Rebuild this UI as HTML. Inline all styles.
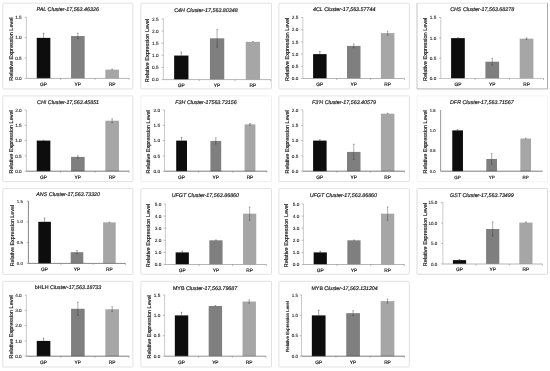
<!DOCTYPE html>
<html lang="en"><head><meta charset="utf-8"><title>Relative Expression Level</title>
<style>html,body{margin:0;padding:0;background:#fff}body{width:550px;height:371px;overflow:hidden}svg{display:block;}text{text-rendering:geometricPrecision;stroke:#151515;stroke-width:0.16px}text.k{stroke-width:0.09px}</style>
</head><body>
<svg width="550" height="371" viewBox="0 0 550 371" font-family='"Liberation Sans", Arial, sans-serif' fill="#151515">
<rect width="550" height="371" fill="#fff"/>
<g>
<rect x="2.8" y="3.2" width="130.1" height="85.7" fill="#fff" stroke="#d9d9d9" stroke-width="0.8" rx="0.8"/>
<text x="67.7" y="11.43" font-size="5.35" text-anchor="middle" xml:space="preserve"><tspan font-style="italic">PAL Cluster-17,563.46326</tspan></text>
<text transform="translate(12.68 49.15) rotate(-90)" font-size="5.5" text-anchor="middle">Relative Expression Level</text>
<line x1="26.4" y1="17.3" x2="26.4" y2="78.4" stroke="#a6a6a6" stroke-width="0.6"/>
<text x="21.7" y="80.09" font-size="4.7" text-anchor="end" class="k">0.0</text>
<line x1="24.7" y1="78.4" x2="26.4" y2="78.4" stroke="#777" stroke-width="0.5"/>
<text x="21.7" y="59.73" font-size="4.7" text-anchor="end" class="k">0.5</text>
<line x1="24.7" y1="58.03" x2="26.4" y2="58.03" stroke="#777" stroke-width="0.5"/>
<text x="21.7" y="39.36" font-size="4.7" text-anchor="end" class="k">1.0</text>
<line x1="24.7" y1="37.67" x2="26.4" y2="37.67" stroke="#777" stroke-width="0.5"/>
<text x="21.7" y="18.99" font-size="4.7" text-anchor="end" class="k">1.5</text>
<line x1="24.7" y1="17.3" x2="26.4" y2="17.3" stroke="#777" stroke-width="0.5"/>
<rect x="36.75" y="37.87" width="13.6" height="40.53" fill="#0d0d0d"/>
<path d="M43.55 33.39V37.87M42.75 33.39H44.35" stroke="#111" stroke-width="0.38" fill="none"/>
<text x="43.55" y="85.75" font-size="4.85" text-anchor="middle">GP</text>
<rect x="71.05" y="36.04" width="13.6" height="42.36" fill="#7f7f7f"/>
<path d="M77.85 33.19V38.89M77.05 33.19H78.65" stroke="#2e2e2e" stroke-width="0.38" fill="none"/>
<path d="M77.05 38.89H78.65" stroke="#2e2e2e" stroke-width="0.38"/>
<text x="77.85" y="85.75" font-size="4.85" text-anchor="middle">YP</text>
<rect x="105.35" y="69.64" width="13.6" height="8.76" fill="#a6a6a6"/>
<path d="M112.15 69.03V70.25M111.35 69.03H112.95" stroke="#2e2e2e" stroke-width="0.38" fill="none"/>
<text x="112.15" y="85.75" font-size="4.85" text-anchor="middle">RP</text>
<line x1="26.4" y1="78.4" x2="129.3" y2="78.4" stroke="#969696" stroke-width="0.7"/>
<line x1="60.7" y1="78.4" x2="60.7" y2="79.9" stroke="#777" stroke-width="0.5"/>
<line x1="95" y1="78.4" x2="95" y2="79.9" stroke="#777" stroke-width="0.5"/>
<line x1="129.1" y1="78.4" x2="129.1" y2="79.9" stroke="#777" stroke-width="0.5"/>
</g>
<g>
<rect x="140.9" y="3.2" width="130.6" height="85.7" fill="#fff" stroke="#d9d9d9" stroke-width="0.8" rx="0.8"/>
<text x="206" y="11.53" font-size="5.35" text-anchor="middle" xml:space="preserve"><tspan font-style="italic">C4H Cluster-17,563.80348</tspan></text>
<text transform="translate(149.18 50.55) rotate(-90)" font-size="5.5" text-anchor="middle">Relative Expression Level</text>
<line x1="163.4" y1="18.9" x2="163.4" y2="79.6" stroke="#a6a6a6" stroke-width="0.6"/>
<text x="158.5" y="81.29" font-size="4.7" text-anchor="end" class="k">0.0</text>
<line x1="161.7" y1="79.6" x2="163.4" y2="79.6" stroke="#777" stroke-width="0.5"/>
<text x="158.5" y="69.15" font-size="4.7" text-anchor="end" class="k">0.5</text>
<line x1="161.7" y1="67.46" x2="163.4" y2="67.46" stroke="#777" stroke-width="0.5"/>
<text x="158.5" y="57.01" font-size="4.7" text-anchor="end" class="k">1.0</text>
<line x1="161.7" y1="55.32" x2="163.4" y2="55.32" stroke="#777" stroke-width="0.5"/>
<text x="158.5" y="44.87" font-size="4.7" text-anchor="end" class="k">1.5</text>
<line x1="161.7" y1="43.18" x2="163.4" y2="43.18" stroke="#777" stroke-width="0.5"/>
<text x="158.5" y="32.73" font-size="4.7" text-anchor="end" class="k">2.0</text>
<line x1="161.7" y1="31.04" x2="163.4" y2="31.04" stroke="#777" stroke-width="0.5"/>
<text x="158.5" y="20.59" font-size="4.7" text-anchor="end" class="k">2.5</text>
<line x1="161.7" y1="18.9" x2="163.4" y2="18.9" stroke="#777" stroke-width="0.5"/>
<rect x="174.15" y="55.56" width="14.3" height="24.04" fill="#0d0d0d"/>
<path d="M181.3 52.16V55.56M180.5 52.16H182.1" stroke="#111" stroke-width="0.38" fill="none"/>
<text x="181.3" y="86.75" font-size="4.85" text-anchor="middle">GP</text>
<rect x="209.95" y="38.32" width="14.3" height="41.28" fill="#7f7f7f"/>
<path d="M217.1 29.58V47.06M216.3 29.58H217.9" stroke="#2e2e2e" stroke-width="0.38" fill="none"/>
<path d="M216.3 47.06H217.9" stroke="#2e2e2e" stroke-width="0.38"/>
<text x="217.1" y="86.75" font-size="4.85" text-anchor="middle">YP</text>
<rect x="245.75" y="41.84" width="14.3" height="37.76" fill="#a6a6a6"/>
<path d="M252.9 41.48V42.21M252.1 41.48H253.7" stroke="#2e2e2e" stroke-width="0.38" fill="none"/>
<text x="252.9" y="86.75" font-size="4.85" text-anchor="middle">RP</text>
<line x1="163.4" y1="79.6" x2="270.8" y2="79.6" stroke="#969696" stroke-width="0.7"/>
<line x1="199.2" y1="79.6" x2="199.2" y2="81.1" stroke="#777" stroke-width="0.5"/>
<line x1="235" y1="79.6" x2="235" y2="81.1" stroke="#777" stroke-width="0.5"/>
<line x1="270.6" y1="79.6" x2="270.6" y2="81.1" stroke="#777" stroke-width="0.5"/>
</g>
<g>
<rect x="278.9" y="3.2" width="130.4" height="85.7" fill="#fff" stroke="#d9d9d9" stroke-width="0.8" rx="0.8"/>
<text x="344.2" y="11.43" font-size="5.35" text-anchor="middle" xml:space="preserve"><tspan font-style="italic">4CL Cluster-17,563.57744</tspan></text>
<text transform="translate(288.68 49.3) rotate(-90)" font-size="5.5" text-anchor="middle">Relative Expression Level</text>
<line x1="302.9" y1="17.5" x2="302.9" y2="78.5" stroke="#a6a6a6" stroke-width="0.6"/>
<text x="298.4" y="80.19" font-size="4.7" text-anchor="end" class="k">0.0</text>
<line x1="301.2" y1="78.5" x2="302.9" y2="78.5" stroke="#777" stroke-width="0.5"/>
<text x="298.4" y="67.99" font-size="4.7" text-anchor="end" class="k">0.5</text>
<line x1="301.2" y1="66.3" x2="302.9" y2="66.3" stroke="#777" stroke-width="0.5"/>
<text x="298.4" y="55.79" font-size="4.7" text-anchor="end" class="k">1.0</text>
<line x1="301.2" y1="54.1" x2="302.9" y2="54.1" stroke="#777" stroke-width="0.5"/>
<text x="298.4" y="43.59" font-size="4.7" text-anchor="end" class="k">1.5</text>
<line x1="301.2" y1="41.9" x2="302.9" y2="41.9" stroke="#777" stroke-width="0.5"/>
<text x="298.4" y="31.39" font-size="4.7" text-anchor="end" class="k">2.0</text>
<line x1="301.2" y1="29.7" x2="302.9" y2="29.7" stroke="#777" stroke-width="0.5"/>
<text x="298.4" y="19.19" font-size="4.7" text-anchor="end" class="k">2.5</text>
<line x1="301.2" y1="17.5" x2="302.9" y2="17.5" stroke="#777" stroke-width="0.5"/>
<rect x="313.1" y="54.1" width="13.5" height="24.4" fill="#0d0d0d"/>
<path d="M319.85 51.66V54.1M319.05 51.66H320.65" stroke="#111" stroke-width="0.38" fill="none"/>
<text x="319.85" y="85.75" font-size="4.85" text-anchor="middle">GP</text>
<rect x="347" y="45.9" width="13.5" height="32.6" fill="#7f7f7f"/>
<path d="M353.75 43.95V47.85M352.95 43.95H354.55" stroke="#2e2e2e" stroke-width="0.38" fill="none"/>
<path d="M352.95 47.85H354.55" stroke="#2e2e2e" stroke-width="0.38"/>
<text x="353.75" y="85.75" font-size="4.85" text-anchor="middle">YP</text>
<rect x="380.9" y="33.12" width="13.5" height="45.38" fill="#a6a6a6"/>
<path d="M387.65 31.16V35.07M386.85 31.16H388.45" stroke="#2e2e2e" stroke-width="0.38" fill="none"/>
<path d="M386.85 35.07H388.45" stroke="#2e2e2e" stroke-width="0.38"/>
<text x="387.65" y="85.75" font-size="4.85" text-anchor="middle">RP</text>
<line x1="302.9" y1="78.5" x2="404.6" y2="78.5" stroke="#969696" stroke-width="0.7"/>
<line x1="336.8" y1="78.5" x2="336.8" y2="80" stroke="#777" stroke-width="0.5"/>
<line x1="370.7" y1="78.5" x2="370.7" y2="80" stroke="#777" stroke-width="0.5"/>
<line x1="404.4" y1="78.5" x2="404.4" y2="80" stroke="#777" stroke-width="0.5"/>
</g>
<g>
<path d="M417 3.2V88.9" stroke="#bdbdbd" stroke-width="0.9" fill="none"/>
<path d="M417 3.2H547.5" stroke="#dedede" stroke-width="0.8" fill="none"/>
<path d="M547.5 3.2V88.9" stroke="#a8a8a8" stroke-width="1" fill="none"/>
<path d="M417 88.9H548" stroke="#b0b0b0" stroke-width="1" fill="none"/>
<text x="482.2" y="11.43" font-size="5.35" text-anchor="middle" xml:space="preserve"><tspan font-style="italic">CHS Cluster-17,563.68278</tspan></text>
<text transform="translate(426.98 49.3) rotate(-90)" font-size="5.5" text-anchor="middle">Relative Expression Level</text>
<line x1="440.8" y1="17.5" x2="440.8" y2="78.5" stroke="#a6a6a6" stroke-width="0.6"/>
<text x="436.3" y="80.19" font-size="4.7" text-anchor="end" class="k">0.0</text>
<line x1="439.1" y1="78.5" x2="440.8" y2="78.5" stroke="#777" stroke-width="0.5"/>
<text x="436.3" y="59.86" font-size="4.7" text-anchor="end" class="k">0.5</text>
<line x1="439.1" y1="58.17" x2="440.8" y2="58.17" stroke="#777" stroke-width="0.5"/>
<text x="436.3" y="39.53" font-size="4.7" text-anchor="end" class="k">1.0</text>
<line x1="439.1" y1="37.83" x2="440.8" y2="37.83" stroke="#777" stroke-width="0.5"/>
<text x="436.3" y="19.19" font-size="4.7" text-anchor="end" class="k">1.5</text>
<line x1="439.1" y1="17.5" x2="440.8" y2="17.5" stroke="#777" stroke-width="0.5"/>
<rect x="451.1" y="38.12" width="13.7" height="40.38" fill="#0d0d0d"/>
<path d="M457.95 37.71V38.12M457.15 37.71H458.75" stroke="#111" stroke-width="0.38" fill="none"/>
<text x="457.95" y="85.75" font-size="4.85" text-anchor="middle">GP</text>
<rect x="485.4" y="61.7" width="13.7" height="16.8" fill="#7f7f7f"/>
<path d="M492.25 58.45V64.96M491.45 58.45H493.05" stroke="#2e2e2e" stroke-width="0.38" fill="none"/>
<path d="M491.45 64.96H493.05" stroke="#2e2e2e" stroke-width="0.38"/>
<text x="492.25" y="85.75" font-size="4.85" text-anchor="middle">YP</text>
<rect x="519.7" y="38.65" width="13.7" height="39.85" fill="#a6a6a6"/>
<path d="M526.55 37.83V39.46M525.75 37.83H527.35" stroke="#2e2e2e" stroke-width="0.38" fill="none"/>
<path d="M525.75 39.46H527.35" stroke="#2e2e2e" stroke-width="0.38"/>
<text x="526.55" y="85.75" font-size="4.85" text-anchor="middle">RP</text>
<line x1="440.8" y1="78.5" x2="543.7" y2="78.5" stroke="#adadad" stroke-width="0.7"/>
<line x1="475.1" y1="78.5" x2="475.1" y2="80" stroke="#777" stroke-width="0.5"/>
<line x1="509.4" y1="78.5" x2="509.4" y2="80" stroke="#777" stroke-width="0.5"/>
<line x1="543.5" y1="78.5" x2="543.5" y2="80" stroke="#777" stroke-width="0.5"/>
</g>
<g>
<rect x="2.8" y="95.9" width="130.1" height="85.7" fill="#fff" stroke="#d9d9d9" stroke-width="0.8" rx="0.8"/>
<text x="68.1" y="104.43" font-size="5.35" text-anchor="middle" xml:space="preserve"><tspan font-style="italic">CHI Cluster-17,563.45851</tspan></text>
<text transform="translate(12.68 141.9) rotate(-90)" font-size="5.5" text-anchor="middle">Relative Expression Level</text>
<line x1="26.4" y1="110" x2="26.4" y2="171.2" stroke="#a6a6a6" stroke-width="0.6"/>
<text x="21.7" y="172.89" font-size="4.7" text-anchor="end" class="k">0.0</text>
<line x1="24.7" y1="171.2" x2="26.4" y2="171.2" stroke="#777" stroke-width="0.5"/>
<text x="21.7" y="157.59" font-size="4.7" text-anchor="end" class="k">0.5</text>
<line x1="24.7" y1="155.9" x2="26.4" y2="155.9" stroke="#777" stroke-width="0.5"/>
<text x="21.7" y="142.29" font-size="4.7" text-anchor="end" class="k">1.0</text>
<line x1="24.7" y1="140.6" x2="26.4" y2="140.6" stroke="#777" stroke-width="0.5"/>
<text x="21.7" y="126.99" font-size="4.7" text-anchor="end" class="k">1.5</text>
<line x1="24.7" y1="125.3" x2="26.4" y2="125.3" stroke="#777" stroke-width="0.5"/>
<text x="21.7" y="111.69" font-size="4.7" text-anchor="end" class="k">2.0</text>
<line x1="24.7" y1="110" x2="26.4" y2="110" stroke="#777" stroke-width="0.5"/>
<rect x="36.75" y="140.6" width="13.6" height="30.6" fill="#0d0d0d"/>
<path d="M43.55 140.29V140.6M42.75 140.29H44.35" stroke="#111" stroke-width="0.38" fill="none"/>
<text x="43.55" y="178.75" font-size="4.85" text-anchor="middle">GP</text>
<rect x="71.05" y="156.88" width="13.6" height="14.32" fill="#7f7f7f"/>
<path d="M77.85 155.66V158.1M77.05 155.66H78.65" stroke="#2e2e2e" stroke-width="0.38" fill="none"/>
<path d="M77.05 158.1H78.65" stroke="#2e2e2e" stroke-width="0.38"/>
<text x="77.85" y="178.75" font-size="4.85" text-anchor="middle">YP</text>
<rect x="105.35" y="120.71" width="13.6" height="50.49" fill="#a6a6a6"/>
<path d="M112.15 118.87V122.55M111.35 118.87H112.95" stroke="#2e2e2e" stroke-width="0.38" fill="none"/>
<path d="M111.35 122.55H112.95" stroke="#2e2e2e" stroke-width="0.38"/>
<text x="112.15" y="178.75" font-size="4.85" text-anchor="middle">RP</text>
<line x1="26.4" y1="171.2" x2="129.3" y2="171.2" stroke="#444" stroke-width="0.7"/>
<line x1="60.7" y1="171.2" x2="60.7" y2="172.7" stroke="#777" stroke-width="0.5"/>
<line x1="95" y1="171.2" x2="95" y2="172.7" stroke="#777" stroke-width="0.5"/>
<line x1="129.1" y1="171.2" x2="129.1" y2="172.7" stroke="#777" stroke-width="0.5"/>
</g>
<g>
<rect x="140.9" y="95.9" width="130.6" height="85.7" fill="#fff" stroke="#ececec" stroke-width="0.8" rx="0.8"/>
<text x="206" y="104.43" font-size="5.35" text-anchor="middle" xml:space="preserve"><tspan font-style="italic">F3H Cluster-17563.73156</tspan></text>
<text transform="translate(150.38 141.9) rotate(-90)" font-size="5.5" text-anchor="middle">Relative Expression Level</text>
<line x1="164.5" y1="110" x2="164.5" y2="171.2" stroke="#a6a6a6" stroke-width="0.6"/>
<text x="160" y="172.89" font-size="4.7" text-anchor="end" class="k">0.0</text>
<line x1="162.8" y1="171.2" x2="164.5" y2="171.2" stroke="#777" stroke-width="0.5"/>
<text x="160" y="157.59" font-size="4.7" text-anchor="end" class="k">0.5</text>
<line x1="162.8" y1="155.9" x2="164.5" y2="155.9" stroke="#777" stroke-width="0.5"/>
<text x="160" y="142.29" font-size="4.7" text-anchor="end" class="k">1.0</text>
<line x1="162.8" y1="140.6" x2="164.5" y2="140.6" stroke="#777" stroke-width="0.5"/>
<text x="160" y="126.99" font-size="4.7" text-anchor="end" class="k">1.5</text>
<line x1="162.8" y1="125.3" x2="164.5" y2="125.3" stroke="#777" stroke-width="0.5"/>
<text x="160" y="111.69" font-size="4.7" text-anchor="end" class="k">2.0</text>
<line x1="162.8" y1="110" x2="164.5" y2="110" stroke="#777" stroke-width="0.5"/>
<rect x="176.2" y="140.6" width="10.8" height="30.6" fill="#0d0d0d"/>
<path d="M181.6 137.54V140.6M180.8 137.54H182.4" stroke="#111" stroke-width="0.38" fill="none"/>
<text x="181.6" y="178.75" font-size="4.85" text-anchor="middle">GP</text>
<rect x="210.4" y="140.91" width="10.8" height="30.29" fill="#7f7f7f"/>
<path d="M215.8 137.85V143.97M215 137.85H216.6" stroke="#2e2e2e" stroke-width="0.38" fill="none"/>
<path d="M215 143.97H216.6" stroke="#2e2e2e" stroke-width="0.38"/>
<text x="215.8" y="178.75" font-size="4.85" text-anchor="middle">YP</text>
<rect x="244.6" y="124.38" width="10.8" height="46.82" fill="#a6a6a6"/>
<path d="M250 123.46V125.3M249.2 123.46H250.8" stroke="#2e2e2e" stroke-width="0.38" fill="none"/>
<path d="M249.2 125.3H250.8" stroke="#2e2e2e" stroke-width="0.38"/>
<text x="250" y="178.75" font-size="4.85" text-anchor="middle">RP</text>
<line x1="164.5" y1="171.2" x2="267.1" y2="171.2" stroke="#444" stroke-width="0.7"/>
<line x1="198.7" y1="171.2" x2="198.7" y2="172.7" stroke="#777" stroke-width="0.5"/>
<line x1="232.9" y1="171.2" x2="232.9" y2="172.7" stroke="#777" stroke-width="0.5"/>
<line x1="266.9" y1="171.2" x2="266.9" y2="172.7" stroke="#777" stroke-width="0.5"/>
</g>
<g>
<rect x="278.9" y="95.9" width="130.4" height="85.7" fill="#fff" stroke="#d9d9d9" stroke-width="0.8" rx="0.8"/>
<text x="344" y="104.43" font-size="5.35" text-anchor="middle" xml:space="preserve"><tspan font-style="italic">F3'H Cluster-17,563.40579</tspan></text>
<text transform="translate(289.28 141.9) rotate(-90)" font-size="5.5" text-anchor="middle">Relative Expression Level</text>
<line x1="302.9" y1="110" x2="302.9" y2="171.2" stroke="#a6a6a6" stroke-width="0.6"/>
<text x="298.4" y="172.89" font-size="4.7" text-anchor="end" class="k">0.0</text>
<line x1="301.2" y1="171.2" x2="302.9" y2="171.2" stroke="#777" stroke-width="0.5"/>
<text x="298.4" y="157.59" font-size="4.7" text-anchor="end" class="k">0.5</text>
<line x1="301.2" y1="155.9" x2="302.9" y2="155.9" stroke="#777" stroke-width="0.5"/>
<text x="298.4" y="142.29" font-size="4.7" text-anchor="end" class="k">1.0</text>
<line x1="301.2" y1="140.6" x2="302.9" y2="140.6" stroke="#777" stroke-width="0.5"/>
<text x="298.4" y="126.99" font-size="4.7" text-anchor="end" class="k">1.5</text>
<line x1="301.2" y1="125.3" x2="302.9" y2="125.3" stroke="#777" stroke-width="0.5"/>
<text x="298.4" y="111.69" font-size="4.7" text-anchor="end" class="k">2.0</text>
<line x1="301.2" y1="110" x2="302.9" y2="110" stroke="#777" stroke-width="0.5"/>
<rect x="313.1" y="140.6" width="13.5" height="30.6" fill="#0d0d0d"/>
<path d="M319.85 139.68V140.6M319.05 139.68H320.65" stroke="#111" stroke-width="0.38" fill="none"/>
<text x="319.85" y="178.75" font-size="4.85" text-anchor="middle">GP</text>
<rect x="347" y="151.92" width="13.5" height="19.28" fill="#7f7f7f"/>
<path d="M353.75 144.27V159.57M352.95 144.27H354.55" stroke="#2e2e2e" stroke-width="0.38" fill="none"/>
<path d="M352.95 159.57H354.55" stroke="#2e2e2e" stroke-width="0.38"/>
<text x="353.75" y="178.75" font-size="4.85" text-anchor="middle">YP</text>
<rect x="380.9" y="113.67" width="13.5" height="57.53" fill="#a6a6a6"/>
<path d="M387.65 113.37V113.98M386.85 113.37H388.45" stroke="#2e2e2e" stroke-width="0.38" fill="none"/>
<text x="387.65" y="178.75" font-size="4.85" text-anchor="middle">RP</text>
<line x1="302.9" y1="171.2" x2="404.6" y2="171.2" stroke="#444" stroke-width="0.7"/>
<line x1="336.8" y1="171.2" x2="336.8" y2="172.7" stroke="#777" stroke-width="0.5"/>
<line x1="370.7" y1="171.2" x2="370.7" y2="172.7" stroke="#777" stroke-width="0.5"/>
<line x1="404.4" y1="171.2" x2="404.4" y2="172.7" stroke="#777" stroke-width="0.5"/>
</g>
<g>
<rect x="417" y="95.9" width="130.5" height="85.7" fill="#fff" stroke="#f0f0f0" stroke-width="0.8" rx="0.8"/>
<text x="481.9" y="104.13" font-size="5.35" text-anchor="middle" xml:space="preserve"><tspan font-style="italic">DFR Cluster-17,563.71567</tspan></text>
<text transform="translate(426.98 141.9) rotate(-90)" font-size="5.5" text-anchor="middle">Relative Expression Level</text>
<line x1="440.6" y1="110" x2="440.6" y2="171.2" stroke="#555" stroke-width="0.6"/>
<text x="435.7" y="172.71" font-size="4.2" text-anchor="end" class="k">0.0</text>
<text x="435.7" y="152.31" font-size="4.2" text-anchor="end" class="k">0.5</text>
<text x="435.7" y="131.91" font-size="4.2" text-anchor="end" class="k">1.0</text>
<text x="435.7" y="111.51" font-size="4.2" text-anchor="end" class="k">1.5</text>
<rect x="452.26" y="130.4" width="10.7" height="40.8" fill="#0d0d0d"/>
<path d="M457.62 129.58V130.4M456.81 129.58H458.42" stroke="#111" stroke-width="0.38" fill="none"/>
<text x="457.62" y="178.75" font-size="4.5" text-anchor="middle">GP</text>
<rect x="486.3" y="158.96" width="10.7" height="12.24" fill="#7f7f7f"/>
<path d="M491.65 153.66V164.26M490.85 153.66H492.45" stroke="#2e2e2e" stroke-width="0.38" fill="none"/>
<path d="M490.85 164.26H492.45" stroke="#2e2e2e" stroke-width="0.38"/>
<text x="491.65" y="178.75" font-size="4.5" text-anchor="middle">YP</text>
<rect x="520.33" y="138.56" width="10.7" height="32.64" fill="#a6a6a6"/>
<path d="M525.68 138.15V138.97M524.88 138.15H526.48" stroke="#2e2e2e" stroke-width="0.38" fill="none"/>
<text x="525.68" y="178.75" font-size="4.5" text-anchor="middle">RP</text>
<line x1="440.6" y1="171.2" x2="542.69" y2="171.2" stroke="#444" stroke-width="0.7"/>
</g>
<g>
<rect x="2.8" y="188.6" width="130.1" height="85.7" fill="#fff" stroke="#d9d9d9" stroke-width="0.8" rx="0.8"/>
<text x="68.2" y="196.43" font-size="5.35" text-anchor="middle" xml:space="preserve"><tspan font-style="italic">ANS Cluster-17,563.73320</tspan></text>
<text transform="translate(13.83 235.6) rotate(-90)" font-size="5.35" text-anchor="middle">Relative Expression Level</text>
<line x1="28.4" y1="201" x2="28.4" y2="263.4" stroke="#333" stroke-width="0.6"/>
<text x="22.9" y="264.98" font-size="4.4" text-anchor="end" class="k">0.0</text>
<line x1="26.7" y1="263.4" x2="28.4" y2="263.4" stroke="#777" stroke-width="0.5"/>
<text x="22.9" y="244.18" font-size="4.4" text-anchor="end" class="k">0.5</text>
<line x1="26.7" y1="242.6" x2="28.4" y2="242.6" stroke="#777" stroke-width="0.5"/>
<text x="22.9" y="223.38" font-size="4.4" text-anchor="end" class="k">1.0</text>
<line x1="26.7" y1="221.8" x2="28.4" y2="221.8" stroke="#777" stroke-width="0.5"/>
<text x="22.9" y="202.58" font-size="4.4" text-anchor="end" class="k">1.5</text>
<line x1="26.7" y1="201" x2="28.4" y2="201" stroke="#777" stroke-width="0.5"/>
<rect x="38.3" y="221.8" width="12.6" height="41.6" fill="#0d0d0d"/>
<path d="M44.6 218.06V221.8M43.8 218.06H45.4" stroke="#111" stroke-width="0.38" fill="none"/>
<text x="44.6" y="270.95" font-size="4.85" text-anchor="middle">GP</text>
<rect x="70.7" y="252.17" width="12.6" height="11.23" fill="#7f7f7f"/>
<path d="M77 250.5V253.83M76.2 250.5H77.8" stroke="#2e2e2e" stroke-width="0.38" fill="none"/>
<path d="M76.2 253.83H77.8" stroke="#2e2e2e" stroke-width="0.38"/>
<text x="77" y="270.95" font-size="4.85" text-anchor="middle">YP</text>
<rect x="103.1" y="222.42" width="12.6" height="40.98" fill="#a6a6a6"/>
<path d="M109.4 222.01V222.84M108.6 222.01H110.2" stroke="#2e2e2e" stroke-width="0.38" fill="none"/>
<text x="109.4" y="270.95" font-size="4.85" text-anchor="middle">RP</text>
<line x1="28.4" y1="263.4" x2="125.6" y2="263.4" stroke="#555" stroke-width="0.7"/>
<line x1="60.8" y1="263.4" x2="60.8" y2="264.9" stroke="#777" stroke-width="0.5"/>
<line x1="93.2" y1="263.4" x2="93.2" y2="264.9" stroke="#777" stroke-width="0.5"/>
<line x1="125.4" y1="263.4" x2="125.4" y2="264.9" stroke="#777" stroke-width="0.5"/>
</g>
<g>
<rect x="140.9" y="188.6" width="130.6" height="85.7" fill="#fff" stroke="#d9d9d9" stroke-width="0.8" rx="0.8"/>
<text x="205.4" y="197.23" font-size="5.35" text-anchor="middle" xml:space="preserve"><tspan font-style="italic">UFGT Cluster-17,563.86860</tspan></text>
<text transform="translate(150.08 235.55) rotate(-90)" font-size="5.5" text-anchor="middle">Relative Expression Level</text>
<line x1="165.4" y1="204" x2="165.4" y2="264.5" stroke="#a6a6a6" stroke-width="0.6"/>
<text x="161.3" y="266.19" font-size="4.7" text-anchor="end" class="k">0.0</text>
<line x1="163.7" y1="264.5" x2="165.4" y2="264.5" stroke="#777" stroke-width="0.5"/>
<text x="161.3" y="254.09" font-size="4.7" text-anchor="end" class="k">1.0</text>
<line x1="163.7" y1="252.4" x2="165.4" y2="252.4" stroke="#777" stroke-width="0.5"/>
<text x="161.3" y="241.99" font-size="4.7" text-anchor="end" class="k">2.0</text>
<line x1="163.7" y1="240.3" x2="165.4" y2="240.3" stroke="#777" stroke-width="0.5"/>
<text x="161.3" y="229.89" font-size="4.7" text-anchor="end" class="k">3.0</text>
<line x1="163.7" y1="228.2" x2="165.4" y2="228.2" stroke="#777" stroke-width="0.5"/>
<text x="161.3" y="217.79" font-size="4.7" text-anchor="end" class="k">4.0</text>
<line x1="163.7" y1="216.1" x2="165.4" y2="216.1" stroke="#777" stroke-width="0.5"/>
<text x="161.3" y="205.69" font-size="4.7" text-anchor="end" class="k">5.0</text>
<line x1="163.7" y1="204" x2="165.4" y2="204" stroke="#777" stroke-width="0.5"/>
<rect x="175.65" y="252.4" width="13.2" height="12.1" fill="#0d0d0d"/>
<path d="M182.25 251.19V252.4M181.45 251.19H183.05" stroke="#111" stroke-width="0.38" fill="none"/>
<text x="182.25" y="271.75" font-size="4.85" text-anchor="middle">GP</text>
<rect x="209.35" y="240.3" width="13.2" height="24.2" fill="#7f7f7f"/>
<path d="M215.95 239.94V240.66M215.15 239.94H216.75" stroke="#2e2e2e" stroke-width="0.38" fill="none"/>
<text x="215.95" y="271.75" font-size="4.85" text-anchor="middle">YP</text>
<rect x="243.05" y="213.68" width="13.2" height="50.82" fill="#a6a6a6"/>
<path d="M249.65 207.03V220.34M248.85 207.03H250.45" stroke="#2e2e2e" stroke-width="0.38" fill="none"/>
<path d="M248.85 220.34H250.45" stroke="#2e2e2e" stroke-width="0.38"/>
<text x="249.65" y="271.75" font-size="4.85" text-anchor="middle">RP</text>
<line x1="165.4" y1="264.5" x2="266.5" y2="264.5" stroke="#969696" stroke-width="0.7"/>
<line x1="199.1" y1="264.5" x2="199.1" y2="266" stroke="#777" stroke-width="0.5"/>
<line x1="232.8" y1="264.5" x2="232.8" y2="266" stroke="#777" stroke-width="0.5"/>
<line x1="266.3" y1="264.5" x2="266.3" y2="266" stroke="#777" stroke-width="0.5"/>
</g>
<g>
<rect x="278.9" y="188.6" width="130.4" height="85.7" fill="#fff" stroke="#d9d9d9" stroke-width="0.8" rx="0.8"/>
<text x="343.4" y="197.23" font-size="5.35" text-anchor="middle" xml:space="preserve"><tspan font-style="italic">UFGT Cluster-17,563.86860</tspan></text>
<text transform="translate(288.08 235.55) rotate(-90)" font-size="5.5" text-anchor="middle">Relative Expression Level</text>
<line x1="303.4" y1="204" x2="303.4" y2="264.5" stroke="#a6a6a6" stroke-width="0.6"/>
<text x="299.3" y="266.19" font-size="4.7" text-anchor="end" class="k">0.0</text>
<line x1="301.7" y1="264.5" x2="303.4" y2="264.5" stroke="#777" stroke-width="0.5"/>
<text x="299.3" y="254.09" font-size="4.7" text-anchor="end" class="k">1.0</text>
<line x1="301.7" y1="252.4" x2="303.4" y2="252.4" stroke="#777" stroke-width="0.5"/>
<text x="299.3" y="241.99" font-size="4.7" text-anchor="end" class="k">2.0</text>
<line x1="301.7" y1="240.3" x2="303.4" y2="240.3" stroke="#777" stroke-width="0.5"/>
<text x="299.3" y="229.89" font-size="4.7" text-anchor="end" class="k">3.0</text>
<line x1="301.7" y1="228.2" x2="303.4" y2="228.2" stroke="#777" stroke-width="0.5"/>
<text x="299.3" y="217.79" font-size="4.7" text-anchor="end" class="k">4.0</text>
<line x1="301.7" y1="216.1" x2="303.4" y2="216.1" stroke="#777" stroke-width="0.5"/>
<text x="299.3" y="205.69" font-size="4.7" text-anchor="end" class="k">5.0</text>
<line x1="301.7" y1="204" x2="303.4" y2="204" stroke="#777" stroke-width="0.5"/>
<rect x="313.65" y="252.4" width="13.2" height="12.1" fill="#0d0d0d"/>
<path d="M320.25 251.19V252.4M319.45 251.19H321.05" stroke="#111" stroke-width="0.38" fill="none"/>
<text x="320.25" y="271.75" font-size="4.85" text-anchor="middle">GP</text>
<rect x="347.35" y="240.3" width="13.2" height="24.2" fill="#7f7f7f"/>
<path d="M353.95 239.94V240.66M353.15 239.94H354.75" stroke="#2e2e2e" stroke-width="0.38" fill="none"/>
<text x="353.95" y="271.75" font-size="4.85" text-anchor="middle">YP</text>
<rect x="381.05" y="213.68" width="13.2" height="50.82" fill="#a6a6a6"/>
<path d="M387.65 207.03V220.34M386.85 207.03H388.45" stroke="#2e2e2e" stroke-width="0.38" fill="none"/>
<path d="M386.85 220.34H388.45" stroke="#2e2e2e" stroke-width="0.38"/>
<text x="387.65" y="271.75" font-size="4.85" text-anchor="middle">RP</text>
<line x1="303.4" y1="264.5" x2="404.5" y2="264.5" stroke="#969696" stroke-width="0.7"/>
<line x1="337.1" y1="264.5" x2="337.1" y2="266" stroke="#777" stroke-width="0.5"/>
<line x1="370.8" y1="264.5" x2="370.8" y2="266" stroke="#777" stroke-width="0.5"/>
<line x1="404.3" y1="264.5" x2="404.3" y2="266" stroke="#777" stroke-width="0.5"/>
</g>
<g>
<rect x="417" y="188.6" width="130.5" height="85.7" fill="#fff" stroke="#d0d0d0" stroke-width="0.8" rx="0.8"/>
<text x="481.9" y="197.23" font-size="5.35" text-anchor="middle" xml:space="preserve"><tspan font-style="italic">GST Cluster-17,563.73499</tspan></text>
<text transform="translate(426.58 234.6) rotate(-90)" font-size="5.5" text-anchor="middle">Relative Expression Level</text>
<line x1="442.9" y1="202.6" x2="442.9" y2="264" stroke="#a6a6a6" stroke-width="0.6"/>
<text x="437.3" y="265.62" font-size="4.5" text-anchor="end" class="k">0.0</text>
<line x1="441.2" y1="264" x2="442.9" y2="264" stroke="#777" stroke-width="0.5"/>
<text x="437.3" y="245.15" font-size="4.5" text-anchor="end" class="k">5.0</text>
<line x1="441.2" y1="243.53" x2="442.9" y2="243.53" stroke="#777" stroke-width="0.5"/>
<text x="437.3" y="224.69" font-size="4.5" text-anchor="end" class="k">10.0</text>
<line x1="441.2" y1="223.07" x2="442.9" y2="223.07" stroke="#777" stroke-width="0.5"/>
<text x="437.3" y="204.22" font-size="4.5" text-anchor="end" class="k">15.0</text>
<line x1="441.2" y1="202.6" x2="442.9" y2="202.6" stroke="#777" stroke-width="0.5"/>
<rect x="452.9" y="260.11" width="13.2" height="3.89" fill="#0d0d0d"/>
<path d="M459.5 259.5V260.11M458.7 259.5H460.3" stroke="#111" stroke-width="0.38" fill="none"/>
<text x="459.5" y="271.25" font-size="4.85" text-anchor="middle">GP</text>
<rect x="486.1" y="229" width="13.2" height="35" fill="#7f7f7f"/>
<path d="M492.7 221.84V236.17M491.9 221.84H493.5" stroke="#2e2e2e" stroke-width="0.38" fill="none"/>
<path d="M491.9 236.17H493.5" stroke="#2e2e2e" stroke-width="0.38"/>
<text x="492.7" y="271.25" font-size="4.85" text-anchor="middle">YP</text>
<rect x="519.3" y="222.58" width="13.2" height="41.42" fill="#a6a6a6"/>
<path d="M525.9 221.96V223.19M525.1 221.96H526.7" stroke="#2e2e2e" stroke-width="0.38" fill="none"/>
<text x="525.9" y="271.25" font-size="4.85" text-anchor="middle">RP</text>
<line x1="442.9" y1="264" x2="542.5" y2="264" stroke="#969696" stroke-width="0.7"/>
<line x1="476.1" y1="264" x2="476.1" y2="265.5" stroke="#777" stroke-width="0.5"/>
<line x1="509.3" y1="264" x2="509.3" y2="265.5" stroke="#777" stroke-width="0.5"/>
<line x1="542.3" y1="264" x2="542.3" y2="265.5" stroke="#777" stroke-width="0.5"/>
</g>
<g>
<rect x="2.8" y="281.3" width="130.1" height="85.7" fill="#fff" stroke="#d9d9d9" stroke-width="0.8" rx="0.8"/>
<text x="68.1" y="289.18" font-size="5.35" text-anchor="middle" xml:space="preserve"><tspan>bHLH</tspan><tspan font-style="italic"> Cluster-17,563.18733</tspan></text>
<text transform="translate(12.68 326.9) rotate(-90)" font-size="5.5" text-anchor="middle">Relative Expression Level</text>
<line x1="26.4" y1="295" x2="26.4" y2="356.2" stroke="#a6a6a6" stroke-width="0.6"/>
<text x="21.7" y="357.89" font-size="4.7" text-anchor="end" class="k">0.0</text>
<line x1="24.7" y1="356.2" x2="26.4" y2="356.2" stroke="#777" stroke-width="0.5"/>
<text x="21.7" y="342.59" font-size="4.7" text-anchor="end" class="k">1.0</text>
<line x1="24.7" y1="340.9" x2="26.4" y2="340.9" stroke="#777" stroke-width="0.5"/>
<text x="21.7" y="327.29" font-size="4.7" text-anchor="end" class="k">2.0</text>
<line x1="24.7" y1="325.6" x2="26.4" y2="325.6" stroke="#777" stroke-width="0.5"/>
<text x="21.7" y="311.99" font-size="4.7" text-anchor="end" class="k">3.0</text>
<line x1="24.7" y1="310.3" x2="26.4" y2="310.3" stroke="#777" stroke-width="0.5"/>
<text x="21.7" y="296.69" font-size="4.7" text-anchor="end" class="k">4.0</text>
<line x1="24.7" y1="295" x2="26.4" y2="295" stroke="#777" stroke-width="0.5"/>
<rect x="36.75" y="340.9" width="13.6" height="15.3" fill="#0d0d0d"/>
<path d="M43.55 338.3V340.9M42.75 338.3H44.35" stroke="#111" stroke-width="0.38" fill="none"/>
<text x="43.55" y="363.75" font-size="4.85" text-anchor="middle">GP</text>
<rect x="71.05" y="308.77" width="13.6" height="47.43" fill="#7f7f7f"/>
<path d="M77.85 302.19V315.35M77.05 302.19H78.65" stroke="#2e2e2e" stroke-width="0.38" fill="none"/>
<path d="M77.05 315.35H78.65" stroke="#2e2e2e" stroke-width="0.38"/>
<text x="77.85" y="363.75" font-size="4.85" text-anchor="middle">YP</text>
<rect x="105.35" y="309.23" width="13.6" height="46.97" fill="#a6a6a6"/>
<path d="M112.15 306.78V311.68M111.35 306.78H112.95" stroke="#2e2e2e" stroke-width="0.38" fill="none"/>
<path d="M111.35 311.68H112.95" stroke="#2e2e2e" stroke-width="0.38"/>
<text x="112.15" y="363.75" font-size="4.85" text-anchor="middle">RP</text>
<line x1="26.4" y1="356.2" x2="129.3" y2="356.2" stroke="#444" stroke-width="0.7"/>
<line x1="60.7" y1="356.2" x2="60.7" y2="357.7" stroke="#777" stroke-width="0.5"/>
<line x1="95" y1="356.2" x2="95" y2="357.7" stroke="#777" stroke-width="0.5"/>
<line x1="129.1" y1="356.2" x2="129.1" y2="357.7" stroke="#777" stroke-width="0.5"/>
</g>
<g>
<rect x="140.9" y="281.3" width="130.6" height="85.7" fill="#fff" stroke="#d9d9d9" stroke-width="0.8" rx="0.8"/>
<text x="205.1" y="289.93" font-size="5.35" text-anchor="middle" xml:space="preserve"><tspan>MYB</tspan><tspan font-style="italic"> Cluster-17,563.79687</tspan></text>
<text transform="translate(150.98 326.9) rotate(-90)" font-size="5.5" text-anchor="middle">Relative Expression Level</text>
<line x1="164.6" y1="295" x2="164.6" y2="356.2" stroke="#a6a6a6" stroke-width="0.6"/>
<text x="160.3" y="357.89" font-size="4.7" text-anchor="end" class="k">0.0</text>
<line x1="162.9" y1="356.2" x2="164.6" y2="356.2" stroke="#777" stroke-width="0.5"/>
<text x="160.3" y="337.49" font-size="4.7" text-anchor="end" class="k">0.5</text>
<line x1="162.9" y1="335.8" x2="164.6" y2="335.8" stroke="#777" stroke-width="0.5"/>
<text x="160.3" y="317.09" font-size="4.7" text-anchor="end" class="k">1.0</text>
<line x1="162.9" y1="315.4" x2="164.6" y2="315.4" stroke="#777" stroke-width="0.5"/>
<text x="160.3" y="296.69" font-size="4.7" text-anchor="end" class="k">1.5</text>
<line x1="162.9" y1="295" x2="164.6" y2="295" stroke="#777" stroke-width="0.5"/>
<rect x="174.83" y="315.4" width="13.4" height="40.8" fill="#0d0d0d"/>
<path d="M181.53 312.34V315.4M180.72 312.34H182.33" stroke="#111" stroke-width="0.38" fill="none"/>
<text x="181.53" y="363.75" font-size="4.85" text-anchor="middle">GP</text>
<rect x="208.68" y="306.02" width="13.4" height="50.18" fill="#7f7f7f"/>
<path d="M215.38 305.61V306.42M214.57 305.61H216.18" stroke="#2e2e2e" stroke-width="0.38" fill="none"/>
<text x="215.38" y="363.75" font-size="4.85" text-anchor="middle">YP</text>
<rect x="242.53" y="301.53" width="13.4" height="54.67" fill="#a6a6a6"/>
<path d="M249.22 299.9V303.16M248.42 299.9H250.03" stroke="#2e2e2e" stroke-width="0.38" fill="none"/>
<path d="M248.42 303.16H250.03" stroke="#2e2e2e" stroke-width="0.38"/>
<text x="249.22" y="363.75" font-size="4.85" text-anchor="middle">RP</text>
<line x1="164.6" y1="356.2" x2="266.15" y2="356.2" stroke="#666" stroke-width="0.7"/>
<line x1="198.45" y1="356.2" x2="198.45" y2="357.7" stroke="#777" stroke-width="0.5"/>
<line x1="232.3" y1="356.2" x2="232.3" y2="357.7" stroke="#777" stroke-width="0.5"/>
<line x1="265.95" y1="356.2" x2="265.95" y2="357.7" stroke="#777" stroke-width="0.5"/>
</g>
<g>
<rect x="278.9" y="281.3" width="130.4" height="85.7" fill="#fff" stroke="#d9d9d9" stroke-width="0.8" rx="0.8"/>
<text x="344.6" y="289.93" font-size="5.25" text-anchor="middle" xml:space="preserve"><tspan>MYB</tspan><tspan font-style="italic"> Cluster-17,563.131204</tspan></text>
<text transform="translate(288.99 326.6) rotate(-90)" font-size="4.43" text-anchor="middle">Relative Expression Level</text>
<line x1="301.5" y1="295" x2="301.5" y2="356.2" stroke="#a6a6a6" stroke-width="0.6"/>
<text x="298" y="357.82" font-size="4.5" text-anchor="end" class="k">0.0</text>
<line x1="299.8" y1="356.2" x2="301.5" y2="356.2" stroke="#777" stroke-width="0.5"/>
<text x="298" y="337.42" font-size="4.5" text-anchor="end" class="k">0.5</text>
<line x1="299.8" y1="335.8" x2="301.5" y2="335.8" stroke="#777" stroke-width="0.5"/>
<text x="298" y="317.02" font-size="4.5" text-anchor="end" class="k">1.0</text>
<line x1="299.8" y1="315.4" x2="301.5" y2="315.4" stroke="#777" stroke-width="0.5"/>
<text x="298" y="296.62" font-size="4.5" text-anchor="end" class="k">1.5</text>
<line x1="299.8" y1="295" x2="301.5" y2="295" stroke="#777" stroke-width="0.5"/>
<rect x="311.85" y="315.4" width="13.7" height="40.8" fill="#0d0d0d"/>
<path d="M318.7 310.1V315.4M317.9 310.1H319.5" stroke="#111" stroke-width="0.38" fill="none"/>
<text x="318.7" y="363.75" font-size="4.85" text-anchor="middle">GP</text>
<rect x="346.25" y="313.16" width="13.7" height="43.04" fill="#7f7f7f"/>
<path d="M353.1 310.71V315.6M352.3 310.71H353.9" stroke="#2e2e2e" stroke-width="0.38" fill="none"/>
<path d="M352.3 315.6H353.9" stroke="#2e2e2e" stroke-width="0.38"/>
<text x="353.1" y="363.75" font-size="4.85" text-anchor="middle">YP</text>
<rect x="380.65" y="301.12" width="13.7" height="55.08" fill="#a6a6a6"/>
<path d="M387.5 299.08V303.16M386.7 299.08H388.3" stroke="#2e2e2e" stroke-width="0.38" fill="none"/>
<path d="M386.7 303.16H388.3" stroke="#2e2e2e" stroke-width="0.38"/>
<text x="387.5" y="363.75" font-size="4.85" text-anchor="middle">RP</text>
<line x1="301.5" y1="356.2" x2="404.7" y2="356.2" stroke="#444" stroke-width="0.7"/>
<line x1="335.9" y1="356.2" x2="335.9" y2="357.7" stroke="#777" stroke-width="0.5"/>
<line x1="370.3" y1="356.2" x2="370.3" y2="357.7" stroke="#777" stroke-width="0.5"/>
<line x1="404.5" y1="356.2" x2="404.5" y2="357.7" stroke="#777" stroke-width="0.5"/>
</g>
</svg>
</body></html>
